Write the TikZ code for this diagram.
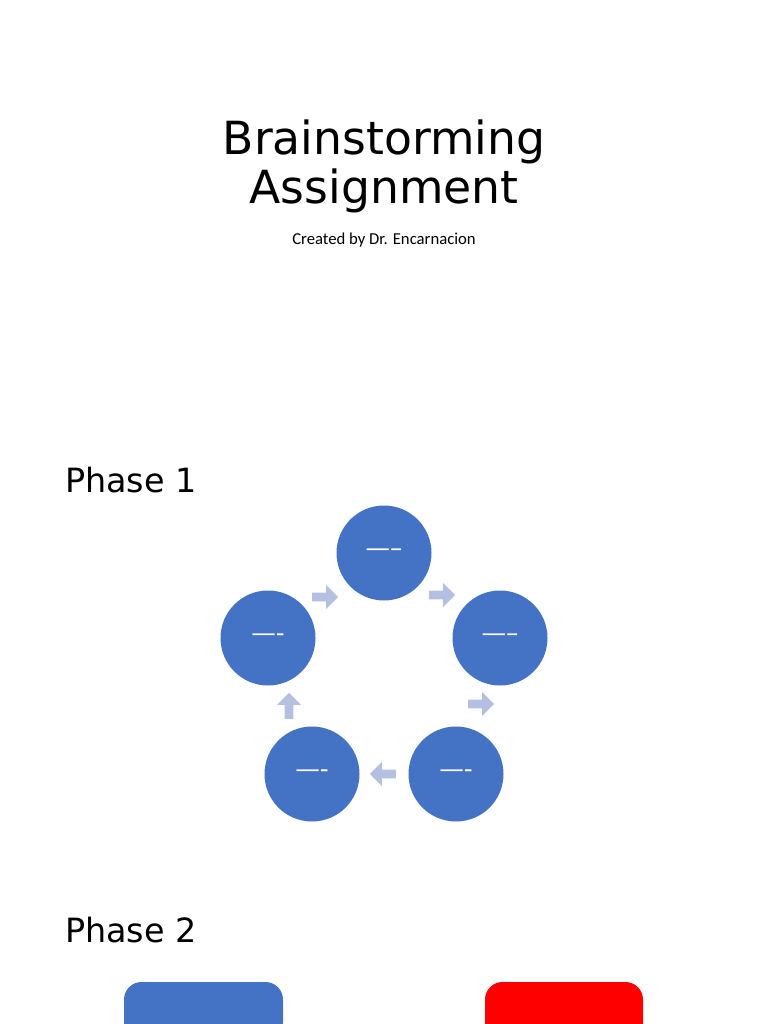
\documentclass[tikz,border=0pt]{standalone}
\usepackage{fontspec}
\setmainfont{DejaVu Sans}
\newfontfamily\carl{Carlito}
\usetikzlibrary{shapes.arrows}
\definecolor{cblue}{HTML}{4472C4}
\definecolor{carr}{HTML}{B4C0E2}
\begin{document}
\begin{tikzpicture}[x=0.02cm,y=-0.02cm,
 circ/.style={circle,fill=cblue,minimum size=95*0.02cm,inner sep=0pt,text=white,font=\fontsize{14}{16}\selectfont},
 arr/.style={single arrow,fill=carr,minimum height=26*0.02cm,minimum width=24*0.02cm,single arrow head extend=3pt,inner sep=1.5pt,shape border rotate=#1}]
\useasboundingbox (0,0) rectangle (768,1024);
\node (t) at (384,166) [align=center,font=\fontsize{26}{28}\selectfont] {Brainstorming\\Assignment};
\node (s) at (384,240) [font=\carl\fontsize{9.5}{11}\selectfont] {Created by Dr. Encarnacion};
\node (p1) at (59,480) [anchor=west,font=\fontsize{19}{22}\selectfont] {Phase 1};
\node (p2) at (59,930) [anchor=west,font=\fontsize{19}{22}\selectfont] {Phase 2};
\node[circ] (c1) at (384,553) {-----};
\node[circ] (c2) at (500,638) {-----};
\node[circ] (c3) at (456,774) {----};
\node[circ] (c4) at (312,774) {----};
\node[circ] (c5) at (268,638) {----};
\node[arr=-36] (a1) at (440,595) {};
\node[arr=-108] (a2) at (479,704) {};
\node[arr=180] (a3) at (385,774) {};
\node[arr=108] (a4) at (289,708) {};
\node[arr=36] (a5) at (323,597) {};
\fill[cblue,rounded corners=10] (124,982) rectangle (283,1040);
\fill[red,rounded corners=10] (485,982) rectangle (643,1040);
\end{tikzpicture}
\end{document}
